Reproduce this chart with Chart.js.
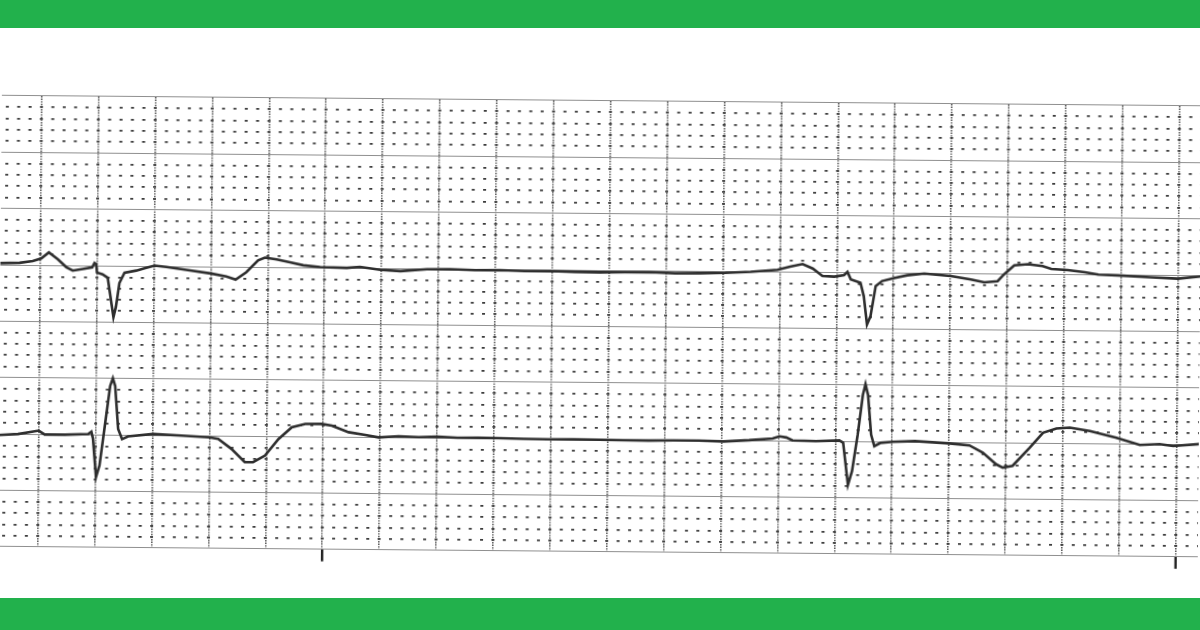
<!DOCTYPE html>
<html>
<head>
<meta charset="utf-8">
<script src="https://cdn.jsdelivr.net/npm/chart.js@4"></script>
<style>
  html, body { margin: 0; padding: 0; background: #fff; overflow: hidden; }
  #page { position: relative; width: 1200px; height: 630px; background: #fff; }
  .band { position: absolute; left: 0; width: 1200px; background: #22b14c; z-index: 2; }
  #top-band { top: 0; height: 28px; }
  #bottom-band { top: 598px; height: 32px; }
  #wrap { position: absolute; left: 0; top: 0; width: 1200px; height: 630px; transform: rotate(0.5deg); }
</style>
</head>
<body>
<div id="page">
  <div id="wrap"><canvas id="ecg" width="1200" height="630"></canvas></div>
  <div class="band" id="top-band"></div>
  <div class="band" id="bottom-band"></div>
</div>
<script>
// paper units: 1 = one small square (1 mm)
const xMin = -3.49;
const xMax = 101.96;
const yMin = 0;
const yMax = 40;

// upper strip
const topTraceX = [-3.6, -1.8, -0.65, 0.1, 0.76, 1.55, 2.3, 2.87, 3.75, 4.58, 4.78, 4.93, 5.0, 5.5, 5.95, 6.25, 6.48, 6.69, 6.98, 7.42,
  8.45, 9.33, 10.06, 11.1, 12.85, 15.0, 16.37, 17.19, 18.13, 19.15, 19.75, 20.78, 21.95, 23.12, 24.6, 26.95, 28.1, 29.9, 31.67,
  34, 36, 38.2, 40.4, 42.6, 44.8, 47, 49.2, 51.4, 53.6, 55.8, 58, 60.2, 62.44, 64.8, 65.9, 67.0, 67.9, 68.75, 69.8, 70.65, 70.95,
  71.24, 72.1, 72.4, 72.7, 73.0, 73.44, 74.0, 75.05, 76.2, 77.7, 80.04, 81.8, 82.98, 84.15, 84.7, 85.6, 86.8, 88.1, 88.85, 90.3,
  91.8, 93.0, 94.7, 97.6, 100, 102.06];
const topTraceY = [25.15, 25.2, 25.36, 25.6, 26.15, 25.55, 24.85, 24.55, 24.7, 24.85, 25.24, 25.15, 24.4, 24.24, 23.94, 21.97, 20.45, 21.36, 23.48, 24.4,
  24.6, 24.85, 25.06, 24.94, 24.7, 24.4, 24.15, 23.88, 24.55, 25.6, 25.85, 25.7, 25.45, 25.2, 25.06, 25.0, 25.1, 24.85, 24.76,
  24.95, 24.97, 24.9, 24.92, 24.85, 24.88, 24.82, 24.8, 24.84, 24.85, 24.78, 24.8, 24.85, 24.97, 25.17, 25.45, 25.69, 25.3, 24.66, 24.6, 24.75, 25.03,
  24.38, 24.08, 22.9, 20.38, 21.1, 23.8, 24.25, 24.53, 24.78, 24.94, 24.74, 24.46, 24.22, 24.33, 24.93, 25.74, 25.85, 25.7, 25.46, 25.36,
  25.19, 24.99, 24.93, 24.79, 24.69, 24.91];

// lower strip
const bottomTraceX = [-3.6, -1.82, 0, 0.53, 2.29, 4.34, 4.63, 4.78, 5.07, 5.37, 5.81, 6.25, 6.48, 6.69, 6.98, 7.33, 7.86, 10.06, 12.55,
  15.0, 15.78, 16.95, 18.13, 18.86, 19.9, 21.07, 22.24, 23.42, 24.88, 25.76, 27.23, 28.7, 29.87, 31.63, 33.4, 35, 36.8, 38.6,
  40.4, 42.6, 44.8, 47, 49.2, 51.4, 53.6, 55.8, 58, 60.2, 62.44, 64.5, 65.1, 65.7, 66.25, 68.3, 70.36, 70.7, 71.15, 71.5, 71.97,
  72.4, 72.62, 72.85, 73.15, 73.44, 74.0, 75.05, 77.0, 80.05, 81.8, 82.98, 84.15, 84.74, 85.6, 87.1, 88.26, 89.43, 90.6, 92.37,
  94.7, 96.77, 98.5, 99.7, 102.06];
const bottomTraceY = [9.91, 10.01, 10.33, 9.99, 9.99, 10.07, 10.28, 9.64, 6.26, 7.29, 10.82, 14.35, 15.03, 14.35, 10.53, 9.64, 9.89, 10.12, 10.0,
  9.87, 9.73, 8.86, 7.7, 7.7, 8.29, 9.76, 10.82, 11.13, 11.14, 11.0, 10.43, 10.2, 9.99, 10.11, 10.05, 10.1, 10.02, 10.05,
  10.02, 9.98, 9.95, 9.97, 9.95, 9.93, 9.92, 9.95, 9.95, 9.9, 10.03, 10.2, 10.4, 10.3, 10.04, 10.0, 10.08, 9.88, 6.14, 7.37, 10.6,
  14.15, 15.09, 14.15, 10.62, 9.6, 9.9, 10.0, 10.08, 9.9, 9.74, 9.11, 8.09, 7.8, 7.96, 9.59, 10.92, 11.31, 11.39, 11.11,
  10.54, 9.91, 10.0, 9.85, 10.04];

// time marks under the paper
const markX = [25, 100];
const markY = [0, -1.05];

function toPoints(xs, ys) {
  return xs.map((x, i) => ({ x: x, y: ys[i] }));
}

const markPoints = [];
markX.forEach(function(x) {
  markPoints.push({ x: x, y: markY[0] }, { x: x, y: markY[1] }, { x: x, y: null });
});

const traceStyle = {
  showLine: true,
  borderColor: '#2e2e2e',
  borderWidth: 2.6,
  pointRadius: 0,
  tension: 0,
  fill: false
};

const isMajor = v => Math.abs(v / 5 - Math.round(v / 5)) < 1e-6;

const ctx = document.getElementById('ecg').getContext('2d');
window.myChart = new Chart(ctx, {
  type: 'scatter',
  data: {
    datasets: [
      Object.assign({ label: 'top', data: toPoints(topTraceX, topTraceY) }, traceStyle),
      Object.assign({ label: 'bottom', data: toPoints(bottomTraceX, bottomTraceY) }, traceStyle),
      {
        label: 'marks',
        data: markPoints,
        showLine: true,
        spanGaps: false,
        borderColor: '#222',
        borderWidth: 2.4,
        pointRadius: 0,
        clip: false
      }
    ]
  },
  options: {
    responsive: false,
    animation: false,
    events: [],
    layout: { padding: { top: 101, bottom: 78, left: 0, right: 0 } },
    plugins: { legend: { display: false }, tooltip: { enabled: false } },
    scales: {
      x: {
        type: 'linear',
        min: xMin,
        max: xMax,
        ticks: { display: false, stepSize: 1, includeBounds: false, autoSkip: false },
        grid: {
          drawTicks: false,
          color: c => isMajor(c.tick.value) ? '#5a5a5a' : 'rgba(0,0,0,0)',
          lineWidth: c => isMajor(c.tick.value) ? 1.6 : 0
        },
        border: { display: false, dash: [1.4, 1.2] }
      },
      y: {
        type: 'linear',
        min: yMin,
        max: yMax,
        ticks: { display: false, stepSize: 1, includeBounds: false, autoSkip: false },
        grid: {
          drawTicks: false,
          color: c => isMajor(c.tick.value) ? '#8f8f8f' : '#3c3c3c',
          lineWidth: c => isMajor(c.tick.value) ? 1.1 : 1.7
        },
        border: {
          display: false,
          dash: c => isMajor(c.tick.value) ? [] : [3, 8.38],
          dashOffset: c => isMajor(c.tick.value) ? 0 : 7.32
        }
      }
    }
  }
});
</script>
</body>
</html>
